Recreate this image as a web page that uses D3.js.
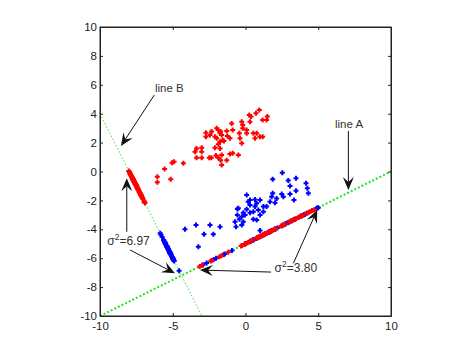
<!DOCTYPE html>
<html><head><meta charset="utf-8">
<script src="https://cdn.jsdelivr.net/npm/d3@7"></script>
<style>body{margin:0;background:#fff}svg{display:block}text{font-family:"Liberation Sans",Arial,sans-serif}</style>
</head><body><svg id="c" width="474" height="355"></svg>
<script>
const xTicks=[-10,-5,0,5,10];
const yTicks=[-10,-8,-6,-4,-2,0,2,4,6,8,10];
const redX=[-6.06,-6.06,-5.14,-5.56,-5.05,-4.91,-4.27,-3.36,-3.01,-3.47,-3.01,-3.36,-3.01,-2.49,-2.35,-2.03,-1.87,-1.64,-1.71,-1.64,-1.29,-1.07,-0.88,-0.49,-2.72,-2.72,-2.44,-2.10,-1.98,-1.87,-1.75,-1.64,-1.57,-1.75,-1.87,-2.10,-1.75,-1.48,-1.29,-1.25,-1.07,-0.88,-0.95,-0.42,-0.38,-0.26,-0.19,-0.26,-0.19,0.08,0.08,0.31,0.26,0.38,0.72,0.95,1.18,1.45,1.50,0.99,1.18,0.65,0.54,0.77,-2.33,-1.98,-1.71];
const redY=[-0.36,-0.75,-0.54,0.17,0.61,0.68,0.57,1.60,1.65,1.37,1.37,0.96,0.96,0.96,0.96,1.10,0.96,1.14,0.77,0.45,0.77,1.21,1.26,1.14,2.69,2.41,2.53,2.41,2.30,2.87,2.64,2.53,2.18,2.06,1.88,1.65,1.60,2.11,2.80,2.46,2.30,2.87,3.33,2.64,2.30,1.95,2.99,3.45,3.22,2.64,2.87,3.45,3.91,3.80,4.03,4.26,3.57,3.57,3.80,2.41,2.41,2.30,2.64,2.64,2.76,2.99,2.76];
const blueX=[2.53,1.87,3.47,2.94,3.06,4.16,4.25,4.32,3.47,3.06,3.33,2.49,2.60,1.87,1.80,2.14,2.03,1.68,1.45,1.23,1.00,0.54,0.77,0.88,0.65,0.77,1.00,0.65,0.31,0.08,0.19,0.31,0.08,0.31,0.54,-0.15,-0.49,-0.56,-0.26,-0.42,-0.72,-0.26,-0.15,1.00,-0.65,-0.03,1.23,-4.16,-3.40,-2.44,-1.75,-2.85,-2.21,-3.24,-0.56];
const blueY=[-0.08,-0.54,-0.47,-0.63,-1.00,-0.82,-1.16,-1.51,-1.33,-1.56,-1.97,-1.56,-1.74,-1.51,-1.74,-1.86,-2.16,-2.09,-2.43,-2.78,-3.01,-3.31,-3.36,-2.66,-2.43,-2.20,-1.97,-1.93,-1.97,-1.63,-2.09,-2.32,-2.62,-2.85,-2.78,-2.85,-2.55,-3.01,-3.13,-3.31,-3.47,-3.70,-3.47,-4.09,-3.82,-3.01,-2.43,-4.00,-3.70,-3.70,-3.82,-4.35,-4.35,-5.20,-2.59];
// projection lines: y = slope*x + intercept
const lineA={slope:0.5,intercept:-5,x:[-10,10]};
const lineB={slope:-2,intercept:-16,x:[-10,-3]};
const labels=[{t:"line B",x:-6.22,y:5.49},{t:"line A",x:6.15,y:2.99}];
const sigmaLabels=[{v:"6.97",x:-9.5,y:-5.1},{v:"3.80",x:2.0,y:-6.95}];
const arrows=[[-6.27,5.29,-8.56,1.76],[7.07,2.80,7.07,-1.28],[-8.16,-4.17,-8.16,-0.47],[-7.94,-5.43,-4.85,-7.04],[3.29,-6.35,4.93,-2.66],[1.75,-6.96,-3.13,-6.82]];

const svg=d3.select("#c");
const L=100,R=391,T=27,B=316;
const x=d3.scaleLinear().domain([-10,10]).range([L,R]);
const y=d3.scaleLinear().domain([-10,10]).range([B,T]);
const ink="#222";

function proj(line,px,py){ // orthogonal projection onto line
  const n=Math.hypot(1,line.slope), dx=1/n, dy=line.slope/n;
  const y0=line.intercept;
  const s=px*dx+(py-y0)*dy;
  return [s*dx,y0+s*dy];
}
svg.append("line").attr("x1",x(lineB.x[0])).attr("y1",y(lineB.slope*lineB.x[0]+lineB.intercept))
  .attr("x2",x(lineB.x[1])).attr("y2",y(lineB.slope*lineB.x[1]+lineB.intercept))
  .attr("stroke","#3ee43e").attr("stroke-width",1).attr("stroke-dasharray","1.5,2");
svg.append("line").attr("x1",x(lineA.x[0])).attr("y1",y(lineA.slope*lineA.x[0]+lineA.intercept))
  .attr("x2",x(lineA.x[1])).attr("y2",y(lineA.slope*lineA.x[1]+lineA.intercept))
  .attr("stroke","#1ee61e").attr("stroke-width",2).attr("stroke-dasharray","2,2");

function plus(g,pts,color){
  g.selectAll(null).data(pts).enter().append("path")
   .attr("d",d=>`M${x(d[0])-2.5},${y(d[1])}h5M${x(d[0])},${y(d[1])-2.5}v5`)
   .attr("stroke",color).attr("stroke-width",2).attr("fill","none");
}
const red=redX.map((v,i)=>[v,redY[i]]);
const blue=blueX.map((v,i)=>[v,blueY[i]]);
const g=svg.append("g");
plus(g,red.map(p=>proj(lineB,p[0],p[1])),"#f00");
plus(g,blue.map(p=>proj(lineB,p[0],p[1])),"#00f");
plus(g,blue.map(p=>proj(lineA,p[0],p[1])),"#00f");
plus(g,red.map(p=>proj(lineA,p[0],p[1])),"#f00");
plus(g,red,"#f00");
plus(g,blue,"#00f");

// axes
const xb=svg.append("g").attr("transform",`translate(0,${B})`).call(d3.axisBottom(x).tickValues(xTicks).tickSize(-3).tickSizeOuter(0).tickPadding(6));
const xt=svg.append("g").attr("transform",`translate(0,${T})`).call(d3.axisTop(x).tickValues(xTicks).tickSize(-3).tickSizeOuter(0).tickFormat(""));
const yl=svg.append("g").attr("transform",`translate(${L},0)`).call(d3.axisLeft(y).tickValues(yTicks).tickSize(-3).tickSizeOuter(0).tickPadding(3));
const yr=svg.append("g").attr("transform",`translate(${R},0)`).call(d3.axisRight(y).tickValues(yTicks).tickSize(-3).tickSizeOuter(0).tickFormat(""));
[xb,xt,yl,yr].forEach(a=>{a.selectAll("path,line").attr("stroke",ink);a.selectAll("text").attr("fill",ink).attr("font-size",11.5).attr("font-family","Liberation Sans,Arial,sans-serif");});
xb.selectAll("text").text(d=>d<0?"-"+Math.abs(d):d);
yl.selectAll("text").text(d=>d<0?"-"+Math.abs(d):d);
svg.append("rect").attr("x",L).attr("y",T).attr("width",R-L).attr("height",B-T).attr("fill","none").attr("stroke",ink).attr("stroke-width",1);

// annotations
labels.forEach(l=>svg.append("text").attr("x",x(l.x)).attr("y",y(l.y)).attr("font-size",11.5).attr("fill","#333").text(l.t));
sigmaLabels.forEach(l=>{
  const t=svg.append("text").attr("x",x(l.x)).attr("y",y(l.y)).attr("font-size",12).attr("fill","#333");
  t.append("tspan").text("σ");
  t.append("tspan").attr("font-size",8.5).attr("dy",-5).text("2");
  t.append("tspan").attr("dy",5).text("="+l.v);
});
arrows.forEach(a=>{
  const x1=x(a[0]),y1=y(a[1]),x2=x(a[2]),y2=y(a[3]);
  const ang=Math.atan2(y2-y1,x2-x1);
  const len=13,w=5.5,notch=8;
  const ux=Math.cos(ang),uy=Math.sin(ang);
  const bx=x2-ux*len,by=y2-uy*len;
  const nx=x2-ux*notch,ny=y2-uy*notch;
  svg.append("line").attr("x1",x1).attr("y1",y1).attr("x2",nx).attr("y2",ny).attr("stroke","#111").attr("stroke-width",1);
  svg.append("path").attr("d",`M${x2},${y2}L${bx-uy*w},${by+ux*w}L${nx},${ny}L${bx+uy*w},${by-ux*w}Z`).attr("fill","#111");
});
</script></body></html>
